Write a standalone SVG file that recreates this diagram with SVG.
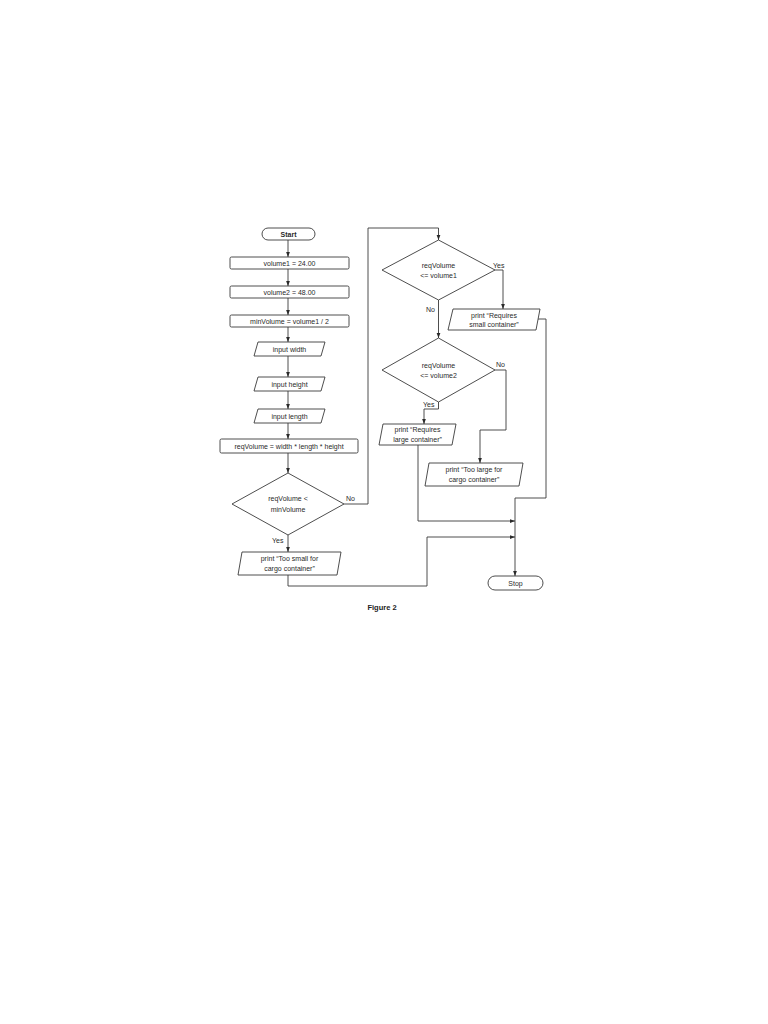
<svg xmlns="http://www.w3.org/2000/svg" width="768" height="1024" viewBox="0 0 768 1024">
<style>
.s{fill:#fff;stroke:#3a3a3a;stroke-width:0.9}
.t{font-family:"Liberation Sans",Arial,sans-serif;font-size:7px;fill:#2a2a2a;text-anchor:middle}
.l{font-family:"Liberation Sans",Arial,sans-serif;font-size:7px;fill:#2a2a2a}
.c{fill:none;stroke:#3a3a3a;stroke-width:0.9}
</style>
<defs>
<marker id="a" viewBox="0 0 8 8" refX="8" refY="4" markerWidth="5" markerHeight="5" orient="auto" markerUnits="userSpaceOnUse">
<path d="M0,1 L8,4 L0,7 Z" fill="#2a2a2a"/>
</marker>
</defs>
<rect width="768" height="1024" fill="#fff"/>
<g id="connectors">
<path class="c" d="M288,240 V257" marker-end="url(#a)"/>
<path class="c" d="M288,269 V286" marker-end="url(#a)"/>
<path class="c" d="M288,298 V315" marker-end="url(#a)"/>
<path class="c" d="M288,327 V342" marker-end="url(#a)"/>
<path class="c" d="M288,356 V377" marker-end="url(#a)"/>
<path class="c" d="M288,391 V409" marker-end="url(#a)"/>
<path class="c" d="M288,423 V439" marker-end="url(#a)"/>
<path class="c" d="M288,453 V473" marker-end="url(#a)"/>
<path class="c" d="M288,535 V552" marker-end="url(#a)"/>
<path class="c" d="M344,504 H368 V228 H438.5 V240" marker-end="url(#a)"/>
<path class="c" d="M495,270 H503 V309" marker-end="url(#a)"/>
<path class="c" d="M438.5,300 V338" marker-end="url(#a)"/>
<path class="c" d="M438.5,402 V409 H424 V424" marker-end="url(#a)"/>
<path class="c" d="M495,370 H506 V430 H480 V463" marker-end="url(#a)"/>
<path class="c" d="M538,319 H546 V498 H515 V576" marker-end="url(#a)"/>
<path class="c" d="M418,445 V521 H515" marker-end="url(#a)"/>
<path class="c" d="M288,575 V586 H427 V537 H515" marker-end="url(#a)"/>
</g>
<g id="start"><rect class="s" x="262" y="228" width="53" height="12" rx="6"/><text class="t" x="288.5" y="236.5" font-weight="bold">Start</text></g>
<g id="volume1"><rect class="s" x="230" y="257" width="119" height="12" rx="1.5"/><text class="t" x="289.5" y="265.5">volume1 = 24.00</text></g>
<g id="volume2"><rect class="s" x="230" y="286" width="119" height="12" rx="1.5"/><text class="t" x="289.5" y="294.5">volume2 = 48.00</text></g>
<g id="minVolume"><rect class="s" x="230" y="315" width="119" height="12" rx="1.5"/><text class="t" x="289.5" y="323.5">minVolume = volume1 / 2</text></g>
<g id="inputWidth"><polygon class="s" points="258,342 325,342 321,356 254,356"/><text class="t" x="289.5" y="351.5">input width</text></g>
<g id="inputHeight"><polygon class="s" points="258,377 325,377 321,391 254,391"/><text class="t" x="289.5" y="386.5">input height</text></g>
<g id="inputLength"><polygon class="s" points="258,409 325,409 321,423 254,423"/><text class="t" x="289.5" y="418.5">input length</text></g>
<g id="reqVolume"><rect class="s" x="220" y="439" width="138" height="14" rx="1.5"/><text class="t" x="289" y="448.5" font-size="7.2">reqVolume = width * length * height</text></g>
<g id="decision1"><polygon class="s" points="288,473 344,504 288,535 232,504"/><text class="t" x="288" y="501">reqVolume &lt;</text><text class="t" x="288" y="512">minVolume</text></g>
<g id="tooSmall"><polygon class="s" points="242,552 341,552 337,575 238,575"/><text class="t" x="289.5" y="561">print “Too small for</text><text class="t" x="289.5" y="571">cargo container”</text></g>
<g id="decision2"><polygon class="s" points="438.5,240 495,270 438.5,300 382,270"/><text class="t" x="438.5" y="268">reqVolume</text><text class="t" x="438.5" y="278">&lt;= volume1</text></g>
<g id="requiresSmall"><polygon class="s" points="453,309 540,309 536,330 448,330"/><text class="t" x="494" y="317.5">print “Requires</text><text class="t" x="494" y="327">small container”</text></g>
<g id="decision3"><polygon class="s" points="438.5,338 495,370 438.5,402 382,370"/><text class="t" x="438.5" y="368">reqVolume</text><text class="t" x="438.5" y="378">&lt;= volume2</text></g>
<g id="requiresLarge"><polygon class="s" points="383,424 456,424 452,445 379,445"/><text class="t" x="417.5" y="432">print “Requires</text><text class="t" x="417.5" y="441.5">large container”</text></g>
<g id="tooLarge"><polygon class="s" points="429,463 523,463 519,486 425,486"/><text class="t" x="474" y="472">print “Too large for</text><text class="t" x="474" y="482">cargo container”</text></g>
<g id="stop"><rect class="s" x="488" y="576" width="55" height="14" rx="7"/><text class="t" x="515.5" y="585.5">Stop</text></g>
<g id="labels">
<text class="l" x="346" y="501">No</text>
<text class="l" x="272" y="543">Yes</text>
<text class="l" x="493" y="268">Yes</text>
<text class="l" x="426" y="312">No</text>
<text class="l" x="496" y="367">No</text>
<text class="l" x="423" y="407">Yes</text>
</g>
<text x="382" y="610" font-family="Liberation Sans,Arial,sans-serif" font-size="7.5" font-weight="bold" fill="#222" text-anchor="middle">Figure 2</text>
</svg>
